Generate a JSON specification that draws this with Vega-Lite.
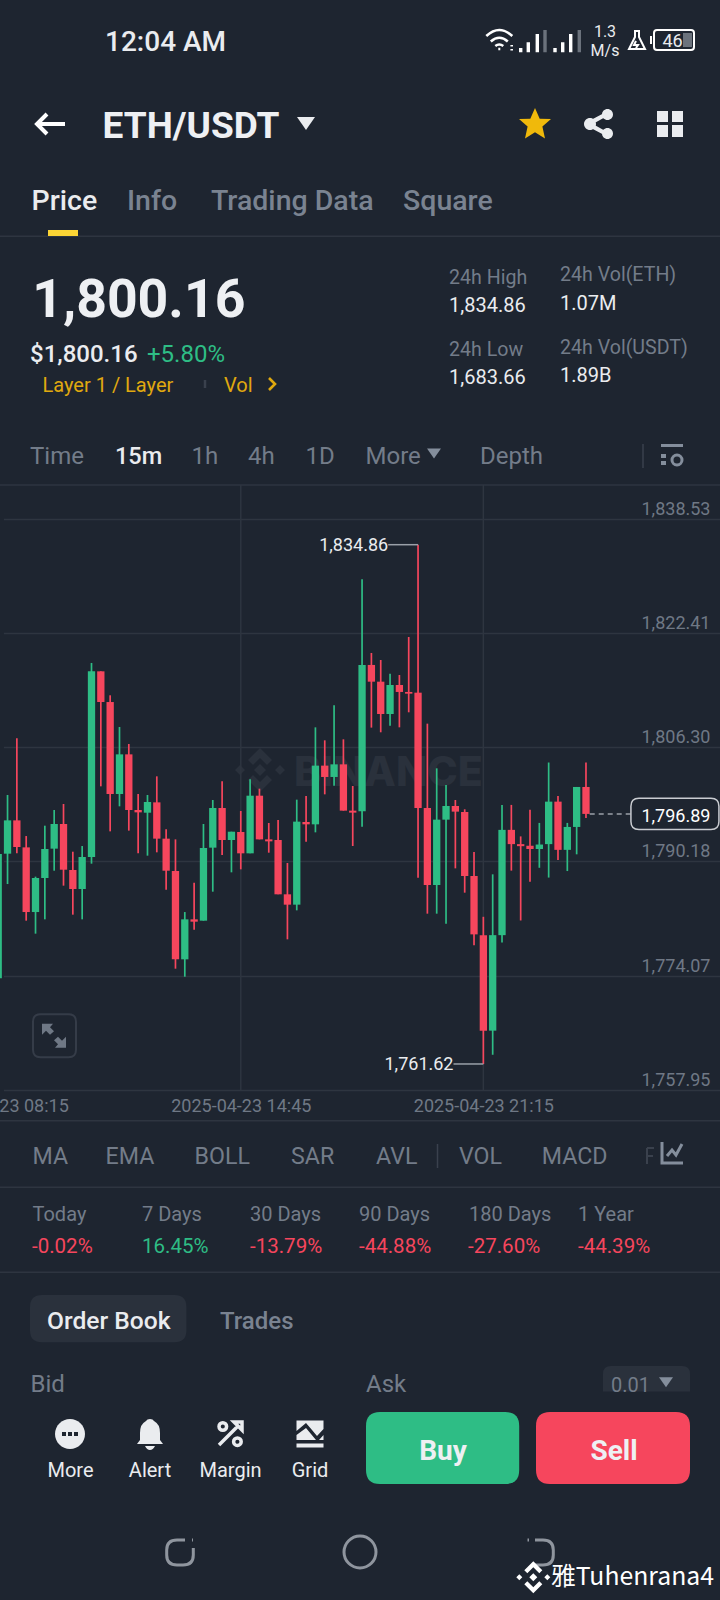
{
  "$schema": "https://vega.github.io/schema/vega-lite/v6.json",
  "width": 720,
  "height": 1600,
  "padding": 0,
  "autosize": {"type": "none"},
  "background": "#1e2530",
  "config": {"font": "Roboto", "view": {"stroke": null}},
  "resolve": {"scale": {"x": "independent", "y": "independent", "color": "independent", "stroke": "independent", "shape": "independent", "size": "independent", "strokeWidth": "independent"}},
  "layer": [
    {
      "data": {"values": [{"slot": 0}, {"slot": 1}, {"slot": 2}, {"slot": 3}, {"slot": 4}]},
      "mark": {"type": "rule", "color": "#2e3540", "strokeWidth": 1.5},
      "encoding": {
        "y": {"field": "slot", "type": "quantitative", "axis": null, "scale": {"domain": [0, 1, 2, 3, 4], "range": [236.3, 485, 1120.7, 1187.3, 1272.3], "zero": false, "nice": false}}
      }
    },
    {
      "data": {"values": [
        {"icon": "buy", "slot": 0}, {"icon": "sell", "slot": 1}, {"icon": "book", "slot": 2}, {"icon": "tick", "slot": 3},
        {"icon": "underline", "slot": 4}, {"icon": "star", "slot": 5}, {"icon": "share", "slot": 6}, {"icon": "panes", "slot": 7},
        {"icon": "caret", "slot": 8}, {"icon": "caretMore", "slot": 9}, {"icon": "caretTick", "slot": 10}, {"icon": "bars", "slot": 11},
        {"icon": "barsDim", "slot": 12}, {"icon": "more", "slot": 13}, {"icon": "dots", "slot": 14}, {"icon": "bell", "slot": 15},
        {"icon": "gridTool", "slot": 16}, {"icon": "settings", "slot": 17}, {"icon": "logo", "slot": 18}, {"icon": "expand", "slot": 19}, {"icon": "charge", "slot": 20}
      ]},
      "mark": {"type": "point", "filled": true, "size": 4, "opacity": 1},
      "encoding": {
        "x": {"field": "slot", "type": "quantitative", "axis": null, "scale": {"domain": [0, 1, 2, 3, 4, 5, 6, 7, 8, 9, 10, 11, 12, 13, 14, 15, 16, 17, 18, 19, 20], "range": [442.6, 613, 108.2, 646.5, 63, 535, 599, 670, 306, 434, 666, 550, 550, 70, 70, 150, 310, 672, 260, 54, 674], "zero": false, "nice": false}},
        "y": {"field": "slot", "type": "quantitative", "axis": null, "scale": {"domain": [0, 1, 2, 3, 4, 5, 6, 7, 8, 9, 10, 11, 12, 13, 14, 15, 16, 17, 18, 19, 20], "range": [1448, 1448, 1318.6, 1378.8, 233, 124, 124, 124, 123, 453, 1381.7, 42, 42, 1434, 1434, 1434, 1434, 456, 770, 1035.7, 40], "zero": false, "nice": false}},
        "color": {"field": "icon", "type": "nominal", "legend": null, "scale": {
          "domain": ["buy", "sell", "book", "tick", "underline", "star", "share", "panes", "caret", "caretMore", "caretTick", "bars", "barsDim", "more", "dots", "bell", "gridTool", "settings", "logo", "expand", "charge"],
          "range": ["#2ebd85", "#f6465d", "#2a313c", "#2a313c", "#fcd535", "#f0b90b", "#eaecef", "#eaecef", "#eaecef", "#848e9c", "#848e9c", "#ffffff", "#6b727c", "#eaecef", "#1e2530", "#eaecef", "#eaecef", "#848e9c", "#2a313c", "#6f7885", "#6b727c"]
        }},
        "shape": {"field": "icon", "type": "nominal", "legend": null, "scale": {
          "domain": ["buy", "sell", "book", "tick", "underline", "star", "share", "panes", "caret", "caretMore", "caretTick", "bars", "barsDim", "more", "dots", "bell", "gridTool", "settings", "logo", "expand", "charge"],
          "range": [
            "M-62.6,-36H62.6Q76.6,-36 76.6,-22V22Q76.6,36 62.6,36H-62.6Q-76.6,36 -76.6,22V-22Q-76.6,-36 -62.6,-36Z",
            "M-63,-36H63Q77,-36 77,-22V22Q77,36 63,36H-63Q-77,36 -77,22V-22Q-77,-36 -63,-36Z",
            "M-66.2,-23.6H66.2Q78.2,-23.6 78.2,-11.6V11.6Q78.2,23.6 66.2,23.6H-66.2Q-78.2,23.6 -78.2,11.6V-11.6Q-78.2,-23.6 -66.2,-23.6Z",
            "M-35.5,-12.8H35.5Q43.5,-12.8 43.5,-4.8V12.8H-43.5V-4.8Q-43.5,-12.8 -35.5,-12.8Z",
            "M-15,-3H15V3H-15Z",
            "M0,-16L4.7,-5.2L16,-4.9L7.4,2.6L10,14.5L0,8.2L-10,14.5L-7.4,2.6L-16,-4.9L-4.7,-5.2Z",
            "M-15,0A6,6 0 1 1 -3,0A6,6 0 1 1 -15,0Z M3,-9.5A5.5,5.5 0 1 1 14,-9.5A5.5,5.5 0 1 1 3,-9.5Z M3,9.5A5.5,5.5 0 1 1 14,9.5A5.5,5.5 0 1 1 3,9.5Z M-10,-3L7,-12L9,-8.5L-8,1Z M-8,-1L9,8.5L7,12L-10,3Z",
            "M-13,-13H-2V-2H-13Z M2,-13H13V-2H2Z M-13,1H-2V13H-13Z M2,1H13V13H2Z",
            "M-9,-6H9L0,7Z",
            "M-7,-4.5H7L0,5.5Z",
            "M-7,-4.5H7L0,5.5Z",
            "M-31,6H-27.6V10.3H-31Z M-23.4,0.3H-20V10.3H-23.4Z M-14.4,-8H-11V10.3H-14.4Z M3.3,6H6.7V10.3H3.3Z M11,0.3H14.4V10.3H11Z M19,-8H22.4V10.3H19Z",
            "M-6.7,-12H-3.3V10.3H-6.7Z M27.6,-12H31V10.3H27.6Z",
            "M-15,0A15,15 0 1 1 15,0A15,15 0 1 1 -15,0Z",
            "M-8,-2H-4V2H-8Z M-2,-2H2V2H-2Z M4,-2H8V2H4Z",
            "M0,-15Q3,-15 4,-13Q10,-10 10,-1V6L13,10H-13L-10,6V-1Q-10,-10 -4,-13Q-3,-15 0,-15Z M-5,12H5Q3,16 0,16Q-3,16 -5,12Z",
            "M-13.5,-13.5H13.5V-5L7,2L2,-4L-4,-11L-13.5,-3Z M-13.5,1L-4,-6L1,0L6,6H-13.5Z M9,6L13.5,1V6Z M-13.5,9.5H13.5V13.5H-13.5Z",
            "M-11,-12H11V-9H-11Z M-11,-2H-6V2H-11Z M-11,5H-6V9H-11Z",
            "M-12,-10L0,-22L12,-10L7,-5L0,-12L-7,-5Z M-12,10L0,22L12,10L7,5L0,12L-7,5Z M-25,0L-20,-5L-15,0L-20,5Z M25,0L20,-5L15,0L20,5Z M0,-6L6,0L0,6L-6,0Z",
            "M-12,-12H-1L-4,-8.5L0,-4.5L-4,-1L-8,-5L-12,-1Z M12,12H1L4,8.5L0,4.5L4,1L8,5L12,1Z",
            "M9,-7H18V7H9Z"
          ]
        }}
      }
    },
    {
      "data": {"values": [{"label": "BINANCE", "slot": 0}]},
      "mark": {"type": "text", "font": "Inter", "fontWeight": 800, "fontSize": 41, "align": "left", "baseline": "middle", "dy": 2, "color": "#2a313c"},
      "encoding": {
        "text": {"field": "label"},
        "x": {"field": "slot", "type": "quantitative", "axis": null, "scale": {"domain": [0, 1], "range": [294, 294], "zero": false, "nice": false}},
        "y": {"field": "slot", "type": "quantitative", "axis": null, "scale": {"domain": [0, 1], "range": [772, 772], "zero": false, "nice": false}}
      }
    },
    {
      "data": {
        "values": [
          {"t": "2025-04-23T08:15", "open": 1773.70, "high": 1791.23, "low": 1773.70, "close": 1791.23},
          {"t": "2025-04-23T08:30", "open": 1791.28, "high": 1799.56, "low": 1787.00, "close": 1795.98},
          {"t": "2025-04-23T08:45", "open": 1795.98, "high": 1807.55, "low": 1791.33, "close": 1792.22},
          {"t": "2025-04-23T09:00", "open": 1792.17, "high": 1793.77, "low": 1781.83, "close": 1783.05},
          {"t": "2025-04-23T09:15", "open": 1783.05, "high": 1788.04, "low": 1780.00, "close": 1787.85},
          {"t": "2025-04-23T09:30", "open": 1787.85, "high": 1795.23, "low": 1782.02, "close": 1791.94},
          {"t": "2025-04-23T09:45", "open": 1791.99, "high": 1797.44, "low": 1788.88, "close": 1795.47},
          {"t": "2025-04-23T10:00", "open": 1795.47, "high": 1798.29, "low": 1786.77, "close": 1789.02},
          {"t": "2025-04-23T10:15", "open": 1788.98, "high": 1791.56, "low": 1782.68, "close": 1786.30},
          {"t": "2025-04-23T10:30", "open": 1786.30, "high": 1792.36, "low": 1782.02, "close": 1790.81},
          {"t": "2025-04-23T10:45", "open": 1790.81, "high": 1818.18, "low": 1789.87, "close": 1817.00},
          {"t": "2025-04-23T11:00", "open": 1817.00, "high": 1817.00, "low": 1800.78, "close": 1812.67},
          {"t": "2025-04-23T11:15", "open": 1812.67, "high": 1813.62, "low": 1794.43, "close": 1799.70},
          {"t": "2025-04-23T11:30", "open": 1799.70, "high": 1809.15, "low": 1797.96, "close": 1805.29},
          {"t": "2025-04-23T11:45", "open": 1805.29, "high": 1806.75, "low": 1794.53, "close": 1797.44},
          {"t": "2025-04-23T12:00", "open": 1797.44, "high": 1799.70, "low": 1791.33, "close": 1797.11},
          {"t": "2025-04-23T12:15", "open": 1797.06, "high": 1799.56, "low": 1791.00, "close": 1798.57},
          {"t": "2025-04-23T12:30", "open": 1798.52, "high": 1802.19, "low": 1791.47, "close": 1793.40},
          {"t": "2025-04-23T12:45", "open": 1793.40, "high": 1794.71, "low": 1786.20, "close": 1788.88},
          {"t": "2025-04-23T13:00", "open": 1788.84, "high": 1793.30, "low": 1775.06, "close": 1776.38},
          {"t": "2025-04-23T13:15", "open": 1776.38, "high": 1783.05, "low": 1773.93, "close": 1782.02},
          {"t": "2025-04-23T13:30", "open": 1782.02, "high": 1787.19, "low": 1780.56, "close": 1781.69},
          {"t": "2025-04-23T13:45", "open": 1781.83, "high": 1795.47, "low": 1781.83, "close": 1792.08},
          {"t": "2025-04-23T14:00", "open": 1792.13, "high": 1798.85, "low": 1785.92, "close": 1797.72},
          {"t": "2025-04-23T14:15", "open": 1797.72, "high": 1801.48, "low": 1791.09, "close": 1793.21},
          {"t": "2025-04-23T14:30", "open": 1793.21, "high": 1794.38, "low": 1788.65, "close": 1794.38},
          {"t": "2025-04-23T14:45", "open": 1794.34, "high": 1797.30, "low": 1789.07, "close": 1791.33},
          {"t": "2025-04-23T15:00", "open": 1791.33, "high": 1801.77, "low": 1791.33, "close": 1799.46},
          {"t": "2025-04-23T15:15", "open": 1799.46, "high": 1800.45, "low": 1793.30, "close": 1793.30},
          {"t": "2025-04-23T15:30", "open": 1793.30, "high": 1795.61, "low": 1791.42, "close": 1793.02},
          {"t": "2025-04-23T15:45", "open": 1793.21, "high": 1796.03, "low": 1785.55, "close": 1785.55},
          {"t": "2025-04-23T16:00", "open": 1785.55, "high": 1789.97, "low": 1779.20, "close": 1784.09},
          {"t": "2025-04-23T16:15", "open": 1784.09, "high": 1798.90, "low": 1783.29, "close": 1795.80},
          {"t": "2025-04-23T16:30", "open": 1795.75, "high": 1799.42, "low": 1792.97, "close": 1795.42},
          {"t": "2025-04-23T16:45", "open": 1795.42, "high": 1809.10, "low": 1794.29, "close": 1803.70},
          {"t": "2025-04-23T17:00", "open": 1803.70, "high": 1807.27, "low": 1799.65, "close": 1802.10},
          {"t": "2025-04-23T17:15", "open": 1802.10, "high": 1812.21, "low": 1800.87, "close": 1803.88},
          {"t": "2025-04-23T17:30", "open": 1803.88, "high": 1807.41, "low": 1797.35, "close": 1797.35},
          {"t": "2025-04-23T17:45", "open": 1797.35, "high": 1800.83, "low": 1792.36, "close": 1797.07},
          {"t": "2025-04-23T18:00", "open": 1797.25, "high": 1829.98, "low": 1795.09, "close": 1817.90},
          {"t": "2025-04-23T18:15", "open": 1817.90, "high": 1819.59, "low": 1809.06, "close": 1815.54},
          {"t": "2025-04-23T18:30", "open": 1815.54, "high": 1818.60, "low": 1808.40, "close": 1810.98},
          {"t": "2025-04-23T18:45", "open": 1810.98, "high": 1816.67, "low": 1809.34, "close": 1815.07},
          {"t": "2025-04-23T19:00", "open": 1815.07, "high": 1816.48, "low": 1809.10, "close": 1814.09},
          {"t": "2025-04-23T19:15", "open": 1814.09, "high": 1821.84, "low": 1811.22, "close": 1813.85},
          {"t": "2025-04-23T19:30", "open": 1813.99, "high": 1834.86, "low": 1787.90, "close": 1797.72},
          {"t": "2025-04-23T19:45", "open": 1797.72, "high": 1809.62, "low": 1782.82, "close": 1786.86},
          {"t": "2025-04-23T20:00", "open": 1786.86, "high": 1803.32, "low": 1782.82, "close": 1796.08},
          {"t": "2025-04-23T20:15", "open": 1796.08, "high": 1800.97, "low": 1781.41, "close": 1798.01},
          {"t": "2025-04-23T20:30", "open": 1798.01, "high": 1798.85, "low": 1789.21, "close": 1797.21},
          {"t": "2025-04-23T20:45", "open": 1797.16, "high": 1797.54, "low": 1785.78, "close": 1788.13},
          {"t": "2025-04-23T21:00", "open": 1788.13, "high": 1791.52, "low": 1778.35, "close": 1779.90},
          {"t": "2025-04-23T21:15", "open": 1779.79, "high": 1782.38, "low": 1761.62, "close": 1766.32},
          {"t": "2025-04-23T21:30", "open": 1766.32, "high": 1788.37, "low": 1762.92, "close": 1779.79},
          {"t": "2025-04-23T21:45", "open": 1779.79, "high": 1798.16, "low": 1778.75, "close": 1794.64},
          {"t": "2025-04-23T22:00", "open": 1794.64, "high": 1798.16, "low": 1788.89, "close": 1792.63},
          {"t": "2025-04-23T22:15", "open": 1792.63, "high": 1793.72, "low": 1781.86, "close": 1792.34},
          {"t": "2025-04-23T22:30", "open": 1792.40, "high": 1797.47, "low": 1787.33, "close": 1791.94},
          {"t": "2025-04-23T22:45", "open": 1791.94, "high": 1795.62, "low": 1789.29, "close": 1792.57},
          {"t": "2025-04-23T23:00", "open": 1792.63, "high": 1804.14, "low": 1787.91, "close": 1798.62},
          {"t": "2025-04-23T23:15", "open": 1798.62, "high": 1799.42, "low": 1790.38, "close": 1791.82},
          {"t": "2025-04-23T23:30", "open": 1791.82, "high": 1795.62, "low": 1788.83, "close": 1795.05},
          {"t": "2025-04-23T23:45", "open": 1795.05, "high": 1800.69, "low": 1791.19, "close": 1800.69},
          {"t": "2025-04-24T00:00", "open": 1800.69, "high": 1804.14, "low": 1796.31, "close": 1796.89}
        ],
        "format": {"parse": {"t": "date"}}
      },
      "encoding": {
        "x": {
          "field": "t",
          "type": "temporal",
          "title": null,
          "scale": {"domain": ["2025-04-23T08:00", "2025-04-24T03:30"], "range": [-11.13, 716.6], "nice": false},
          "axis": {
            "orient": "bottom",
            "offset": -493.3,
            "values": ["2025-04-23T08:15", "2025-04-23T14:45", "2025-04-23T21:15"],
            "format": "%Y-%m-%d %H:%M",
            "grid": false,
            "domain": false,
            "ticks": false,
            "labelPadding": 0,
            "labelBaseline": "middle",
            "labelFlush": false,
            "labelOverlap": false,
            "labelFontSize": 18,
            "labelColor": "#6f7885"
          }
        }
      },
      "layer": [
        {
          "data": {"values": [{"t": "2025-04-23T14:45"}, {"t": "2025-04-23T21:15"}], "format": {"parse": {"t": "date"}}},
          "mark": {"type": "rule", "color": "#2e3540", "strokeWidth": 1.5},
          "encoding": {
            "y": {
              "datum": 1757.95,
              "title": null,
              "scale": {"domain": [1757.95, 1843.28], "range": [1090, 485], "zero": false, "nice": false},
              "axis": {
                "orient": "right",
                "values": [1757.95, 1774.07, 1790.18, 1806.30, 1822.41, 1838.53],
                "format": ",.2f",
                "grid": true,
                "gridColor": "#2e3540",
                "gridWidth": 1.5,
                "domain": false,
                "ticks": false,
                "labelAlign": "right",
                "labelBaseline": "bottom",
                "labelPadding": -10,
                "labelOffset": -0.5,
                "labelFlush": false,
                "labelOverlap": false,
                "labelFontSize": 18,
                "labelColor": "#6f7885",
                "title": null
              }
            },
            "y2": {"datum": 1843.28}
          }
        },
        {
          "mark": {"type": "rule", "strokeWidth": 1.7},
          "encoding": {
            "y": {"field": "low", "type": "quantitative", "title": null, "scale": {"domain": [1757.95, 1843.28], "range": [1090, 485], "zero": false, "nice": false}},
            "y2": {"field": "high"},
            "color": {"condition": {"test": "datum.close >= datum.open", "value": "#2ebd85"}, "value": "#f6465d"}
          }
        },
        {
          "mark": {"type": "rule", "strokeWidth": 7.3},
          "encoding": {
            "y": {"field": "open", "type": "quantitative", "title": null, "scale": {"domain": [1757.95, 1843.28], "range": [1090, 485], "zero": false, "nice": false}},
            "y2": {"field": "close"},
            "color": {"condition": {"test": "datum.close >= datum.open", "value": "#2ebd85"}, "value": "#f6465d"}
          }
        },
        {
          "data": {
            "values": [
              {"t": "2025-04-23T19:30", "from": "2025-04-23T18:42", "price": 1834.86, "label": "1,834.86"},
              {"t": "2025-04-23T21:15", "from": "2025-04-23T20:27", "price": 1761.62, "label": "1,761.62"}
            ],
            "format": {"parse": {"t": "date", "from": "date"}}
          },
          "layer": [
            {
              "mark": {"type": "rule", "color": "#9aa0a8", "strokeWidth": 1.5},
              "encoding": {
                "y": {"field": "price", "type": "quantitative", "title": null, "scale": {"domain": [1757.95, 1843.28], "range": [1090, 485], "zero": false, "nice": false}},
                "x2": {"field": "from"}
              }
            },
            {
              "mark": {"type": "text", "align": "right", "baseline": "middle", "dx": 0, "dy": 1, "fontSize": 18, "color": "#eaecef"},
              "encoding": {
                "x": {"field": "from", "type": "temporal", "title": null},
                "y": {"field": "price", "type": "quantitative", "title": null, "scale": {"domain": [1757.95, 1843.28], "range": [1090, 485], "zero": false, "nice": false}},
                "text": {"field": "label"}
              }
            }
          ]
        },
        {
          "data": {
            "values": [{"t": "2025-04-24T00:06", "to": "2025-04-24T01:12", "price": 1796.89}],
            "format": {"parse": {"t": "date", "to": "date"}}
          },
          "mark": {"type": "rule", "color": "#9aa0a8", "strokeWidth": 1.5, "strokeDash": [5, 4]},
          "encoding": {
            "y": {"field": "price", "type": "quantitative", "title": null, "scale": {"domain": [1757.95, 1843.28], "range": [1090, 485], "zero": false, "nice": false}},
            "x2": {"field": "to"}
          }
        },
        {
          "data": {
            "values": [{"t": "2025-04-24T02:23", "price": 1796.89, "label": "1,796.89"}],
            "format": {"parse": {"t": "date"}}
          },
          "layer": [
            {
              "mark": {"type": "point", "size": 4, "filled": true, "opacity": 1, "fill": "#1e2530", "stroke": "#c9ccd1", "strokeWidth": 1.5, "shape": "M-36,-15.7H36Q44,-15.7 44,-7.7V7.7Q44,15.7 36,15.7H-36Q-44,15.7 -44,7.7V-7.7Q-44,-15.7 -36,-15.7Z"},
              "encoding": {
                "y": {"field": "price", "type": "quantitative", "title": null, "scale": {"domain": [1757.95, 1843.28], "range": [1090, 485], "zero": false, "nice": false}}
              }
            },
            {
              "mark": {"type": "text", "align": "center", "baseline": "middle", "dx": 1, "dy": 3, "fontSize": 18, "color": "#ffffff"},
              "encoding": {
                "y": {"field": "price", "type": "quantitative", "title": null, "scale": {"domain": [1757.95, 1843.28], "range": [1090, 485], "zero": false, "nice": false}},
                "text": {"field": "label"}
              }
            }
          ]
        }
      ]
    },
    {
      "data": {"values": [
        {"icon": "arrow", "slot": 0}, {"icon": "wifi", "slot": 1}, {"icon": "flask", "slot": 2}, {"icon": "battery", "slot": 3},
        {"icon": "margin", "slot": 4}, {"icon": "ring", "slot": 5}, {"icon": "indicators", "slot": 6}, {"icon": "sepA", "slot": 7},
        {"icon": "sepB", "slot": 8}, {"icon": "sepC", "slot": 9}, {"icon": "navLeft", "slot": 10}, {"icon": "navHome", "slot": 11},
        {"icon": "navRight", "slot": 12}, {"icon": "expandBox", "slot": 13}, {"icon": "fade", "slot": 14}, {"icon": "chevron", "slot": 15}
      ]},
      "mark": {"type": "point", "filled": false, "size": 4, "opacity": 1},
      "encoding": {
        "x": {"field": "slot", "type": "quantitative", "axis": null, "scale": {"domain": [0, 1, 2, 3, 4, 5, 6, 7, 8, 9, 10, 11, 12, 13, 14, 15], "range": [50, 499.3, 637, 674, 230, 677, 672, 643, 437.5, 205, 180, 360, 540, 54.5, 650, 272], "zero": false, "nice": false}},
        "y": {"field": "slot", "type": "quantitative", "axis": null, "scale": {"domain": [0, 1, 2, 3, 4, 5, 6, 7, 8, 9, 10, 11, 12, 13, 14, 15], "range": [124, 40, 40, 40, 1434, 460, 1153, 456, 1156, 384, 1552, 1552, 1552, 1035.7, 1156, 384], "zero": false, "nice": false}},
        "strokeWidth": {"field": "slot", "type": "quantitative", "legend": null, "scale": {"domain": [0, 1, 2, 3, 4, 5, 6, 7, 8, 9, 10, 11, 12, 13, 14, 15], "range": [4, 2.6, 2, 2, 3.5, 3, 3, 1.5, 1.5, 2.5, 3, 3, 3, 2, 2, 2.6], "zero": false, "nice": false}},
        "stroke": {"field": "icon", "type": "nominal", "legend": null, "scale": {
          "domain": ["arrow", "wifi", "flask", "battery", "margin", "ring", "indicators", "sepA", "sepB", "sepC", "navLeft", "navHome", "navRight", "expandBox", "fade", "chevron"],
          "range": ["#ffffff", "#ffffff", "#ffffff", "#ffffff", "#eaecef", "#848e9c", "#848e9c", "#3a414d", "#3a414d", "#3a414d", "#8f959e", "#8f959e", "#8f959e", "#353c48", "#3a414d", "#e0a90f"]
        }},
        "shape": {"field": "icon", "type": "nominal", "legend": null, "scale": {
          "domain": ["arrow", "wifi", "flask", "battery", "margin", "ring", "indicators", "sepA", "sepB", "sepC", "navLeft", "navHome", "navRight", "expandBox", "fade", "chevron"],
          "range": [
            "M15,0H-13M-3,-10L-13,0L-3,10",
            "M-13,-4Q0,-16 13,-4M-8.5,1.5Q0,-6 8.5,1.5M-4,6Q0,3 4,6M-1,9H1M12.4,5V6.5M12.4,9V10.5",
            "M-3,-9H3M-2,-9V-3L-8,9H8L2,-3V-9M-1,1L-3,5H1L-1,8",
            "M-17,-10H17Q20,-10 20,-7V7Q20,10 17,10H-17Q-20,10 -20,7V-7Q-20,-10 -17,-10ZM-23,-4V4",
            "M-11,11L8,-8M4,-12H12V-4ZM-11,-7.5A3.8,3.8 0 1 1 -3.4,-7.5A3.8,3.8 0 1 1 -11,-7.5ZM3.6,7.7A3.8,3.8 0 1 1 11.2,7.7A3.8,3.8 0 1 1 3.6,7.7Z",
            "M-5,0A5,5 0 1 1 5,0A5,5 0 1 1 -5,0Z",
            "M-10,-11V10H11M-5,3L0,-3L4,2L10,-9",
            "M0,-12V12",
            "M0,-12V12",
            "M0,-4V4",
            "M5,-12H-3Q-13.3,-12 -13.3,-2V3Q-13.3,13 -3,13H3Q13.3,13 13.3,3V-4M12,-12H13",
            "M-16,0A16,16 0 1 1 16,0A16,16 0 1 1 -16,0Z",
            "M-5,-12H3Q13.3,-12 13.3,-2V3Q13.3,13 3,13H-5M-12.5,-12H-11",
            "M-14,-21.5H14Q21.5,-21.5 21.5,-14V14Q21.5,21.5 14,21.5H-14Q-21.5,21.5 -21.5,14V-14Q-21.5,-21.5 -14,-21.5Z",
            "M-3,-8V8M-3,-8H4M-3,0H3",
            "M-3,-6L3,0L-3,6"
          ]
        }}
      }
    },
    {
      "data": {"values": [{"slot": 0}]},
      "mark": {"type": "point", "filled": true, "size": 4, "opacity": 1, "color": "#ffffff", "shape": "M-9,-7L0,-16L9,-7L6,-4L0,-10L-6,-4Z M-9,7L0,16L9,7L6,4L0,10L-6,4Z M-17,0L-14,-3L-11,0L-14,3Z M17,0L14,-3L11,0L14,3Z M0,-4L4,0L0,4L-4,0Z"},
      "encoding": {
        "x": {"field": "slot", "type": "quantitative", "axis": null, "scale": {"domain": [0, 1], "range": [533.3, 533.3], "zero": false, "nice": false}},
        "y": {"field": "slot", "type": "quantitative", "axis": null, "scale": {"domain": [0, 1], "range": [1577.3, 1577.3], "zero": false, "nice": false}}
      }
    },
    {
      "data": {"values": [
        {"label": "12:04 AM", "slot": 0}, {"label": "Price", "slot": 1},
        {"label": "$1,800.16", "slot": 2}, {"label": "15m", "slot": 3}, {"label": "Order Book", "slot": 4}
      ]},
      "mark": {"type": "text", "align": "left", "baseline": "middle", "dy": 2, "fontWeight": 500, "color": "#eaecef"},
      "encoding": {
        "text": {"field": "label"},
        "x": {"field": "slot", "type": "quantitative", "axis": null, "scale": {"domain": [0, 1, 2, 3, 4], "range": [105, 31.5, 30, 115, 47], "zero": false, "nice": false}},
        "y": {"field": "slot", "type": "quantitative", "axis": null, "scale": {"domain": [0, 1, 2, 3, 4], "range": [41, 199, 353, 455, 1320], "zero": false, "nice": false}},
        "size": {"field": "slot", "type": "quantitative", "legend": null, "scale": {"domain": [0, 1, 2, 3, 4], "range": [28, 28.5, 24, 23.5, 24.6], "zero": false, "nice": false}}
      }
    },
    {
      "data": {"values": [{"label": "ETH/USDT", "slot": 0}, {"label": "1,800.16", "slot": 1}, {"label": "Buy", "slot": 2}, {"label": "Sell", "slot": 3}]},
      "mark": {"type": "text", "align": "center", "baseline": "middle", "dy": 2, "fontWeight": 700, "color": "#eef0f3"},
      "encoding": {
        "text": {"field": "label"},
        "x": {"field": "slot", "type": "quantitative", "axis": null, "scale": {"domain": [0, 1, 2, 3], "range": [191, 138.8, 443, 614], "zero": false, "nice": false}},
        "y": {"field": "slot", "type": "quantitative", "axis": null, "scale": {"domain": [0, 1, 2, 3], "range": [124.5, 299, 1450, 1450], "zero": false, "nice": false}},
        "size": {"field": "slot", "type": "quantitative", "legend": null, "scale": {"domain": [0, 1, 2, 3], "range": [37, 53.6, 28, 28], "zero": false, "nice": false}}
      }
    },
    {
      "data": {"values": [{"label": "1,834.86", "slot": 0}, {"label": "1,683.66", "slot": 1}, {"label": "1.07M", "slot": 2}, {"label": "1.89B", "slot": 3}]},
      "mark": {"type": "text", "align": "left", "baseline": "middle", "dy": 2, "fontSize": 20, "color": "#eaecef"},
      "encoding": {
        "text": {"field": "label"},
        "x": {"field": "slot", "type": "quantitative", "axis": null, "scale": {"domain": [0, 1, 2, 3], "range": [449, 449, 560, 560], "zero": false, "nice": false}},
        "y": {"field": "slot", "type": "quantitative", "axis": null, "scale": {"domain": [0, 1, 2, 3], "range": [304, 376, 302, 374], "zero": false, "nice": false}}
      }
    },
    {
      "data": {"values": [
        {"label": "More", "slot": 0}, {"label": "Alert", "slot": 1}, {"label": "Margin", "slot": 2}, {"label": "Grid", "slot": 3},
        {"label": "1.3", "slot": 4}, {"label": "M/s", "slot": 5}, {"label": "46", "slot": 6}
      ]},
      "mark": {"type": "text", "align": "center", "baseline": "middle", "dy": 1.5, "color": "#eaecef"},
      "encoding": {
        "text": {"field": "label"},
        "x": {"field": "slot", "type": "quantitative", "axis": null, "scale": {"domain": [0, 1, 2, 3, 4, 5, 6], "range": [70.5, 150, 230.5, 310, 605, 605, 672.6], "zero": false, "nice": false}},
        "y": {"field": "slot", "type": "quantitative", "axis": null, "scale": {"domain": [0, 1, 2, 3, 4, 5, 6], "range": [1469, 1469, 1469, 1469, 30.5, 49.5, 40], "zero": false, "nice": false}},
        "size": {"field": "slot", "type": "quantitative", "legend": null, "scale": {"domain": [0, 1, 2, 3, 4, 5, 6], "range": [20, 20, 20, 20, 16, 16, 18], "zero": false, "nice": false}}
      }
    },
    {
      "data": {"values": [{"label": "Info", "slot": 0}, {"label": "Trading Data", "slot": 1}, {"label": "Square", "slot": 2}, {"label": "Trades", "slot": 3}]},
      "mark": {"type": "text", "align": "left", "baseline": "middle", "dy": 2, "fontWeight": 500, "color": "#7a8391"},
      "encoding": {
        "text": {"field": "label"},
        "x": {"field": "slot", "type": "quantitative", "axis": null, "scale": {"domain": [0, 1, 2, 3], "range": [127, 211, 403, 220], "zero": false, "nice": false}},
        "y": {"field": "slot", "type": "quantitative", "axis": null, "scale": {"domain": [0, 1, 2, 3], "range": [199, 199, 199, 1320], "zero": false, "nice": false}},
        "size": {"field": "slot", "type": "quantitative", "legend": null, "scale": {"domain": [0, 1, 2, 3], "range": [28.5, 28.5, 28.5, 24], "zero": false, "nice": false}}
      }
    },
    {
      "data": {"values": [
        {"label": "24h High", "slot": 0}, {"label": "24h Low", "slot": 1}, {"label": "24h Vol(ETH)", "slot": 2}, {"label": "24h Vol(USDT)", "slot": 3},
        {"label": "Time", "slot": 4}, {"label": "1h", "slot": 5}, {"label": "4h", "slot": 6}, {"label": "1D", "slot": 7}, {"label": "More", "slot": 8}, {"label": "Depth", "slot": 9},
        {"label": "MA", "slot": 10}, {"label": "EMA", "slot": 11}, {"label": "BOLL", "slot": 12}, {"label": "SAR", "slot": 13}, {"label": "AVL", "slot": 14}, {"label": "VOL", "slot": 15}, {"label": "MACD", "slot": 16},
        {"label": "Today", "slot": 17}, {"label": "7 Days", "slot": 18}, {"label": "30 Days", "slot": 19}, {"label": "90 Days", "slot": 20}, {"label": "180 Days", "slot": 21}, {"label": "1 Year", "slot": 22},
        {"label": "Bid", "slot": 23}, {"label": "Ask", "slot": 24}, {"label": "0.01", "slot": 25}
      ]},
      "mark": {"type": "text", "align": "left", "baseline": "middle", "dy": 2, "color": "#737c89"},
      "encoding": {
        "text": {"field": "label"},
        "x": {"field": "slot", "type": "quantitative", "axis": null, "scale": {"domain": [0, 1, 2, 3, 4, 5, 6, 7, 8, 9, 10, 11, 12, 13, 14, 15, 16, 17, 18, 19, 20, 21, 22, 23, 24, 25], "range": [449, 449, 560, 560, 30, 191.5, 248, 305.5, 365.5, 480, 32.5, 105.5, 194.5, 291, 376, 459, 541.7, 32.5, 142, 250, 359, 469, 578, 30.5, 366, 611], "zero": false, "nice": false}},
        "y": {"field": "slot", "type": "quantitative", "axis": null, "scale": {"domain": [0, 1, 2, 3, 4, 5, 6, 7, 8, 9, 10, 11, 12, 13, 14, 15, 16, 17, 18, 19, 20, 21, 22, 23, 24, 25], "range": [276, 348, 273, 346, 455, 455, 455, 455, 455, 455, 1154.7, 1154.7, 1154.7, 1154.7, 1154.7, 1154.7, 1154.7, 1213.3, 1213.3, 1213.3, 1213.3, 1213.3, 1213.3, 1383, 1383, 1384], "zero": false, "nice": false}},
        "size": {"field": "slot", "type": "quantitative", "legend": null, "scale": {"domain": [0, 1, 2, 3, 4, 5, 6, 7, 8, 9, 10, 11, 12, 13, 14, 15, 16, 17, 18, 19, 20, 21, 22, 23, 24, 25], "range": [19.6, 19.6, 19.6, 19.6, 24, 24, 24, 24, 24, 24, 23.2, 23.2, 23.2, 23.2, 23.2, 23.2, 23.2, 20, 20, 20, 20, 20, 20, 24, 24, 20], "zero": false, "nice": false}}
      }
    },
    {
      "data": {"values": [{"label": "-0.02%", "slot": 0}, {"label": "-13.79%", "slot": 1}, {"label": "-44.88%", "slot": 2}, {"label": "-27.60%", "slot": 3}, {"label": "-44.39%", "slot": 4}]},
      "mark": {"type": "text", "align": "left", "baseline": "middle", "dy": 2, "fontSize": 20.5, "color": "#f6465d"},
      "encoding": {
        "text": {"field": "label"},
        "x": {"field": "slot", "type": "quantitative", "axis": null, "scale": {"domain": [0, 1, 2, 3, 4], "range": [32, 250, 359, 468, 578], "zero": false, "nice": false}},
        "y": {"field": "slot", "type": "quantitative", "axis": null, "scale": {"domain": [0, 1, 2, 3, 4], "range": [1245, 1245, 1245, 1245, 1245], "zero": false, "nice": false}}
      }
    },
    {
      "data": {"values": [{"label": "+5.80%", "slot": 0}, {"label": "16.45%", "slot": 1}]},
      "mark": {"type": "text", "align": "left", "baseline": "middle", "dy": 2, "color": "#2ebd85"},
      "encoding": {
        "text": {"field": "label"},
        "x": {"field": "slot", "type": "quantitative", "axis": null, "scale": {"domain": [0, 1], "range": [147, 142], "zero": false, "nice": false}},
        "y": {"field": "slot", "type": "quantitative", "axis": null, "scale": {"domain": [0, 1], "range": [353, 1245], "zero": false, "nice": false}},
        "size": {"field": "slot", "type": "quantitative", "legend": null, "scale": {"domain": [0, 1], "range": [24, 20.5], "zero": false, "nice": false}}
      }
    },
    {
      "data": {"values": [{"label": "Layer 1 / Layer", "slot": 0}, {"label": "Vol", "slot": 1}]},
      "mark": {"type": "text", "align": "left", "baseline": "middle", "dy": 2, "fontSize": 20, "color": "#e0a90f"},
      "encoding": {
        "text": {"field": "label"},
        "x": {"field": "slot", "type": "quantitative", "axis": null, "scale": {"domain": [0, 1], "range": [42.5, 224], "zero": false, "nice": false}},
        "y": {"field": "slot", "type": "quantitative", "axis": null, "scale": {"domain": [0, 1], "range": [383.5, 383.5], "zero": false, "nice": false}}
      }
    },
    {
      "data": {"values": [{"label": "雅Tuhenrana4", "slot": 0}]},
      "mark": {"type": "text", "font": "Noto Sans CJK SC", "fontSize": 24.8, "align": "left", "baseline": "middle", "dy": 1, "color": "#ffffff"},
      "encoding": {
        "text": {"field": "label"},
        "x": {"field": "slot", "type": "quantitative", "axis": null, "scale": {"domain": [0, 1], "range": [551, 551], "zero": false, "nice": false}},
        "y": {"field": "slot", "type": "quantitative", "axis": null, "scale": {"domain": [0, 1], "range": [1577, 1577], "zero": false, "nice": false}}
      }
    }
  ]
}
